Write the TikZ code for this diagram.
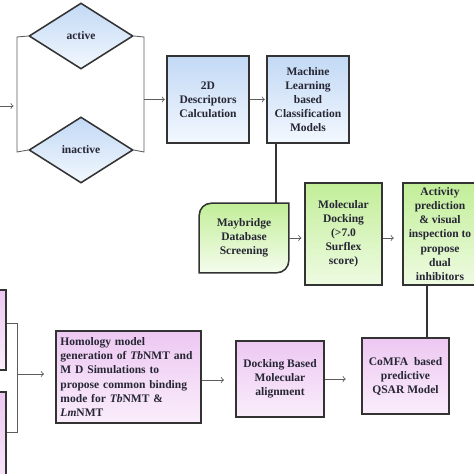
\documentclass[tikz,border=0pt]{standalone}
\usepackage{fontspec}
\setmainfont{Liberation Serif}
\usetikzlibrary{calc,arrows,shapes.geometric}
\definecolor{txt}{HTML}{262634}
\definecolor{edge}{HTML}{333333}
\definecolor{bluetop}{HTML}{C2D9F5}
\definecolor{bluebot}{HTML}{F3F8FE}
\definecolor{greentop}{HTML}{C2EE98}
\definecolor{greenbot}{HTML}{EEFBE2}
\definecolor{pinktop}{HTML}{EDC8F2}
\definecolor{pinkbot}{HTML}{FAEDFB}
\tikzset{
  box/.style={draw=edge,line width=1.1pt,inner sep=2pt,align=center,
    text=txt,font=\fontsize{8.2}{10}\selectfont\bfseries},
  bluebox/.style={box,top color=bluetop,bottom color=bluebot},
  greenbox/.style={box,top color=greentop,bottom color=greenbot},
  pinkbox/.style={box,top color=pinktop,bottom color=pinkbot},
  choice/.style={bluebox,diamond,inner sep=0pt,minimum width=2.6cm,minimum height=1.65cm},
  link/.style={draw=edge!80,line width=0.6pt},
  arrowlink/.style={link,->,shorten >=1pt},
  stem/.style={draw=edge,line width=1.8pt}
}
\begin{document}
\begin{tikzpicture}[x=0.025cm,y=-0.025cm]
\useasboundingbox (0,0) rectangle (474,474);
% upper row
\node[choice] (active) at (81,36) {active};
\node[choice] (inactive) at (81,150) {inactive};
\node[bluebox,minimum width=2.05cm,minimum height=2.175cm] (desc) at (208,99.5) {2D\\Descriptors\\Calculation};
\node[bluebox,minimum width=2.05cm,minimum height=2.175cm] (ml) at (308,99.5) {Machine\\Learning\\based\\Classification\\Models};
\coordinate (in) at (0,106);
\coordinate (inend) at (15,106);
\draw[link] (active.west) -- (17,37) -- (17,152) -- (inactive.west);
\draw[link] (active.east) -- (144,37) -- (144,152) -- (inactive.east);
\draw[arrowlink] (in) -- (inend);
\draw[arrowlink] (144,99.5) -- (desc.west);
\draw[arrowlink] (desc.east) -- (ml.west);
% middle row
\node[box,draw=none,minimum width=2.2cm,minimum height=1.7cm] (mayb) at (244,238) {Maybridge\\Database\\Screening};
\shade[top color=greentop,bottom color=greenbot!60!white,draw=edge,line width=1.1pt]
  ([yshift=-0.3cm]mayb.north west) arc(180:90:0.3cm) -- (mayb.north east)
  -- ([yshift=0.3cm]mayb.south east) arc(0:-90:0.3cm) -- (mayb.south west) -- cycle;
\node[box,draw=none,minimum width=2.2cm,minimum height=1.7cm] at (mayb) {Maybridge\\Database\\Screening};
\node[greenbox,minimum width=1.925cm,minimum height=2.55cm] (dock) at (343.5,234) {Molecular\\Docking\\(>7.0\\Surflex\\score)};
\node[greenbox,minimum width=1.85cm,minimum height=2.55cm] (act) at (440,234) {Activity\\prediction\\\& visual\\inspection to\\propose\\dual\\inhibitors};
\draw[stem] ([xshift=0.25cm]ml.south west) -- ([xshift=0.25cm]ml.south west |- mayb.north);
\draw[arrowlink,shorten >=2pt] (mayb.east) -- (mayb.east -| dock.west);
\draw[arrowlink,shorten >=6pt] (dock.east |- mayb.east) -- (act.west |- mayb.east);
% lower row
\node[pinkbox,minimum width=1.4cm,minimum height=2cm] (left1) at (-22,330) {};
\node[pinkbox,minimum width=1.4cm,minimum height=2.7cm] (left2) at (-22,446) {};
\node[pinkbox,align=left,minimum width=3.625cm,minimum height=2.3cm,text width=3.4cm] (homo) at (128.5,377)
  {Homology model\\generation of \textit{Tb}NMT and\\M D Simulations to\\propose common binding\\mode for \textit{Tb}NMT \&\\\textit{Lm}NMT};
\node[pinkbox,minimum width=2.2cm,minimum height=1.9cm] (dba) at (280,379) {Docking Based\\Molecular\\alignment};
\node[pinkbox,minimum width=2.175cm,minimum height=1.9cm] (comfa) at (405.5,376) {CoMFA\ \ based\\predictive\\QSAR Model};
\draw[link] (left1.east |- 0,323) -- (17,323) -- (17,432) -- (left2.east |- 0,432);
\draw[arrowlink,shorten >=8pt] (17,374) -- (homo.west |- 0,374);
\draw[arrowlink,shorten >=8pt] (homo.east |- 0,380) -- (dba.west |- 0,380);
\draw[arrowlink,shorten >=11pt] (dba.east) -- (dba.east -| comfa.west);
\draw[stem] ([xshift=0.625cm]act.south west) -- ([xshift=0.625cm]act.south west |- comfa.north);
\end{tikzpicture}
\end{document}
